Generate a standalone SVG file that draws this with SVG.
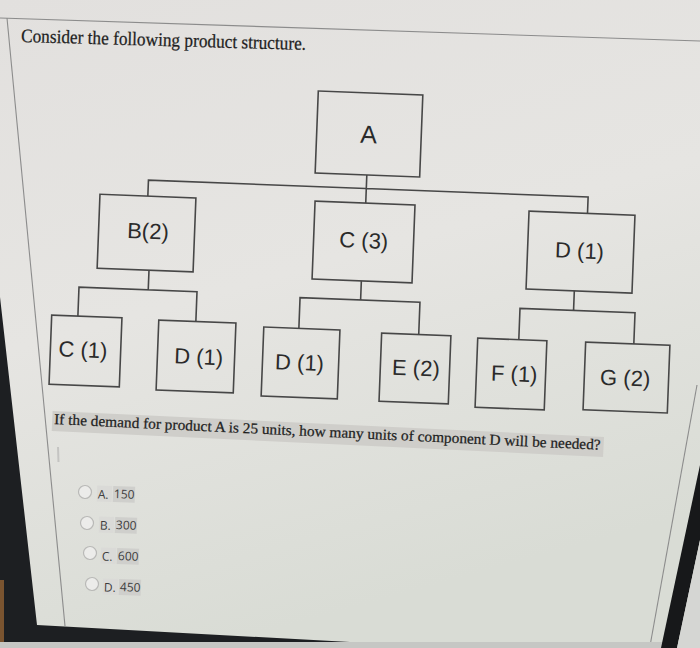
<svg xmlns="http://www.w3.org/2000/svg" width="700" height="648" viewBox="0 0 700 648">
  <defs>
    <linearGradient id="bg" x1="0" y1="0" x2="0.3" y2="1">
      <stop offset="0" stop-color="#e2e0de"/>
      <stop offset="0.5" stop-color="#e6e5e2"/>
      <stop offset="1" stop-color="#d9dcd5"/>
    </linearGradient>
    <style>
      .box { fill: none; stroke: #474747; stroke-width: 1.6; }
      .lbl { font-family: "Liberation Sans", Arial, sans-serif; font-size: 22px; fill: #2a2a2a; text-anchor: middle; }
      .big { font-size: 25px; }
      .con { fill: none; stroke: #474747; stroke-width: 1.6; }
      .serif { font-family: "Liberation Serif", "Times New Roman", serif; fill: #1e1e1e; stroke: #1e1e1e; stroke-width: 0.25; }
      .opt { font-family: "Open Sans", "Liberation Sans", sans-serif; font-size: 12px; fill: #3c3c3c; }
      .radio { fill: #ececea; stroke: #b9b9b7; stroke-width: 1.2; }
      .hlNum { fill: #cfcfcc; }
      .hlLet { fill: #dadad7; }
      .frame { stroke: #8c8c8c; stroke-width: 1.1; fill: none; }
    </style>
  </defs>

  <!-- background / photo surroundings -->
  <rect x="0" y="0" width="700" height="648" fill="url(#bg)"/>
  <line class="frame" x1="0" y1="18" x2="700" y2="41"/>
  <line class="frame" x1="7" y1="18" x2="65" y2="626"/>
  <line class="frame" x1="697" y1="385" x2="650" y2="646" stroke="#a5a5a5"/>
  <polygon points="0,297 37,625 350,642 0,642" fill="#1d1f22"/>
  <rect x="0" y="580" width="4" height="62" fill="#7a5430"/>
  <rect x="0" y="642" width="700" height="6" fill="#c6c7c4"/>
  <polygon points="700,465 700,540 677,648 661,648" fill="#17181a"/>
  <polygon points="677,648 700,540 700,648" fill="#d5d6d3"/>

  <!-- title -->
  <text class="serif" x="21" y="42" font-size="19" textLength="285" lengthAdjust="spacingAndGlyphs" transform="rotate(1.6 21 42)">Consider the following product structure.</text>

  <!-- product structure tree -->
  <g transform="rotate(2.2 350 300)">
    <g id="connectors">
      <path class="con" d="M362,174.4 V202.5 M144,203.9 V188 H584 V204.3"/>
      <path class="con" d="M148,277.9 V297.6 M78.7,326.5 V297.6 H196.8 V327.4"/>
      <path class="con" d="M360.6,280.5 V299.6 M300,330.3 V299.6 H420 V331.9"/>
      <path class="con" d="M573.8,282.1 V301.8 M520.2,333.2 V301.8 H635.3 V333"/>
    </g>
    <g id="node-A">
      <rect class="box" x="310.3" y="92.4" width="104.6" height="82"/>
      <text class="lbl big" x="362.3" y="142.4">A</text>
    </g>
    <g id="node-B">
      <rect class="box" x="96.1" y="203.9" width="96" height="74"/>
      <text class="lbl" x="145.5" y="246.5">B(2)</text>
    </g>
    <g id="node-C3">
      <rect class="box" x="311.3" y="202.5" width="100" height="78"/>
      <text class="lbl" x="361.5" y="247.5">C (3)</text>
    </g>
    <g id="node-D-top">
      <rect class="box" x="525.5" y="204.3" width="106" height="78"/>
      <text class="lbl" x="577.5" y="249.5">D (1)</text>
    </g>
    <g id="node-C1">
      <rect class="box" x="52.5" y="326.5" width="70.3" height="69.2"/>
      <text class="lbl" x="85" y="367.5">C (1)</text>
    </g>
    <g id="node-D-B">
      <rect class="box" x="159.7" y="327.4" width="77.2" height="69.9"/>
      <text class="lbl" x="201" y="370">D (1)</text>
    </g>
    <g id="node-D-C">
      <rect class="box" x="264.9" y="330.3" width="76.2" height="69"/>
      <text class="lbl" x="302" y="372">D (1)</text>
    </g>
    <g id="node-E">
      <rect class="box" x="382.9" y="331.9" width="69.3" height="68.2"/>
      <text class="lbl" x="418.5" y="373">E (2)</text>
    </g>
    <g id="node-F">
      <rect class="box" x="479.1" y="333.2" width="69.2" height="69.2"/>
      <text class="lbl" x="517" y="375">F (1)</text>
    </g>
    <g id="node-G">
      <rect class="box" x="587.1" y="333" width="84.3" height="67.7"/>
      <text class="lbl" x="628" y="375">G (2)</text>
    </g>
  </g>

  <!-- question -->
  <g transform="rotate(2.7 54 424)">
    <rect x="52" y="411" width="552" height="20" fill="#cfceca"/>
    <text class="serif" x="54" y="424" font-size="15" textLength="547" lengthAdjust="spacingAndGlyphs">If the demand for product A is 25 units, how many units of component D will be needed?</text>
  </g>
  <line x1="58" y1="447" x2="58.5" y2="462" stroke="#c4c4c2" stroke-width="2"/>

  <!-- answer options -->
  <g transform="rotate(2 85 492)">
    <circle class="radio" cx="85" cy="492" r="6.5"/>
    <rect class="hlLet" x="97" y="485" width="15" height="16"/>
    <rect class="hlNum" x="113" y="485" width="22" height="16"/>
    <text class="opt" x="98" y="498">A.</text>
    <text class="opt" x="114" y="497">150</text>
  </g>
  <g transform="rotate(2 87 523)">
    <circle class="radio" cx="87" cy="523" r="6.5"/>
    <rect class="hlLet" x="99" y="516" width="15" height="16"/>
    <rect class="hlNum" x="115" y="516" width="22" height="16"/>
    <text class="opt" x="100" y="529">B.</text>
    <text class="opt" x="116" y="528">300</text>
  </g>
  <g transform="rotate(2 90 553)">
    <circle class="radio" cx="90" cy="553" r="6.5"/>
    <rect class="hlLet" x="101" y="547" width="15" height="16"/>
    <rect class="hlNum" x="117" y="547" width="22" height="16"/>
    <text class="opt" x="102" y="560">C.</text>
    <text class="opt" x="118" y="559">600</text>
  </g>
  <g transform="rotate(2 92 584)">
    <circle class="radio" cx="92" cy="584" r="6.5"/>
    <rect class="hlLet" x="103" y="578" width="15" height="16"/>
    <rect class="hlNum" x="119" y="578" width="22" height="16"/>
    <text class="opt" x="104" y="591">D.</text>
    <text class="opt" x="120" y="590">450</text>
  </g>
</svg>
